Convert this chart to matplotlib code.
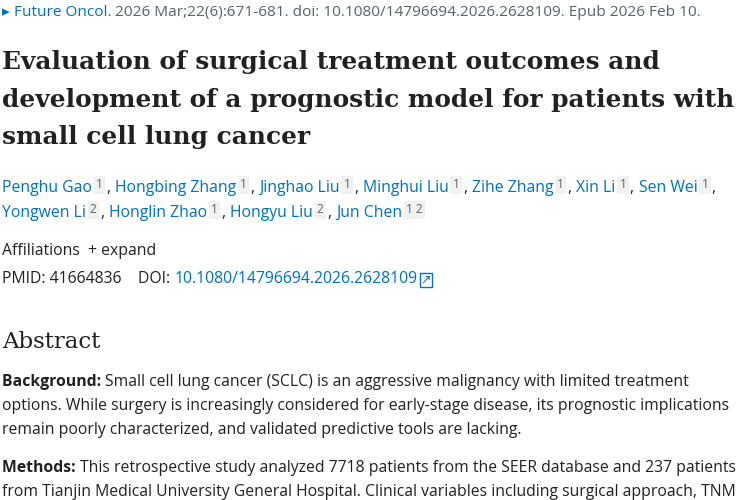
import matplotlib
matplotlib.use("Agg")
import matplotlib.pyplot as plt

BLUE = "#0071bc"
DARK = "#212121"
GRAY = "#5b616b"

citation = [("▸ ", BLUE), ("Future Oncol.", BLUE),
            (" 2026 Mar;22(6):671-681. doi: 10.1080/14796694.2026.2628109. Epub 2026 Feb 10.", GRAY)]
title_lines = ["Evaluation of surgical treatment outcomes and",
               "development of a prognostic model for patients with",
               "small cell lung cancer"]
authors_1 = [("Penghu Gao", "1"), ("Hongbing Zhang", "1"), ("Jinghao Liu", "1"),
             ("Minghui Liu", "1"), ("Zihe Zhang", "1"), ("Xin Li", "1"), ("Sen Wei", "1")]
authors_2 = [("Yongwen Li", "2"), ("Honglin Zhao", "1"), ("Hongyu Liu", "2"), ("Jun Chen", "1 2")]
background = ["Small cell lung cancer (SCLC) is an aggressive malignancy with limited treatment",
              "options. While surgery is increasingly considered for early-stage disease, its prognostic implications",
              "remain poorly characterized, and validated predictive tools are lacking."]
methods = ["This retrospective study analyzed 7718 patients from the SEER database and 237 patients",
           "from Tianjin Medical University General Hospital. Clinical variables including surgical approach, TNM"]

fig = plt.figure(figsize=(7.5, 5), dpi=100)
fig.patch.set_facecolor("white")
r = fig.canvas.get_renderer()
SANS = ["Open Sans", "DejaVu Sans"]
SERIF = ["DejaVu Serif"]
BODY = 11.3

def Y(py):
    return 1 - py / 500

def put(x, py, s, **kw):
    t = fig.text(x / 750, Y(py), s, va="center", ha="left", **kw)
    bb = t.get_window_extent(r)
    return x + bb.width

def seq(x, py, segs, size=BODY, family=SANS, weight="normal"):
    for s, c in segs:
        x = put(x, py, s, color=c, fontsize=size, family=family, fontweight=weight)
    return x

seq(2, 12, citation, size=11.1)

for i, line in enumerate(title_lines):
    put(2, 62 + i * 37.5, line, fontsize=17.9, family=SERIF, fontweight="bold", color=DARK)

def author_line(x, py, lst, last_comma):
    for j, (name, sup) in enumerate(lst):
        x = put(x, py, name, fontsize=BODY, family=SANS, color=BLUE)
        x += 4
        t = fig.text(x / 750, Y(py - 3), sup, va="center", ha="left", fontsize=8.5,
                     family=SANS, color=GRAY,
                     bbox=dict(boxstyle="square,pad=0.2", fc="#f1f1f1", ec="none"))
        x += t.get_window_extent(r).width + 4
        if j < len(lst) - 1 or last_comma:
            x = put(x, py, ", ", fontsize=BODY, family=SANS, color=DARK)
    return x

author_line(2, 188, authors_1, True)
author_line(2, 213, authors_2, False)

seq(2, 251, [("Affiliations  ", DARK), ("+ expand", DARK)])
x = seq(2, 279, [("PMID: 41664836    DOI: ", DARK), ("10.1080/14796694.2026.2628109", BLUE)])
put(x + 3, 280, "↗", fontsize=9, color=BLUE, family=["DejaVu Sans"],
    bbox=dict(boxstyle="square,pad=0.05", fc="none", ec=BLUE, lw=1))

put(2, 342, "Abstract", fontsize=16.5, family=SERIF, color=DARK)

def para(py, label, lines):
    x = put(2, py, label + " ", fontsize=BODY, family=SANS, fontweight="bold", color=DARK)
    put(x, py, lines[0], fontsize=BODY, family=SANS, color=DARK)
    for k, l in enumerate(lines[1:]):
        put(2, py + 24 * (k + 1), l, fontsize=BODY, family=SANS, color=DARK)

para(382, "Background:", background)
para(468, "Methods:", methods)

fig.savefig("out.png", dpi=100, facecolor="white")
